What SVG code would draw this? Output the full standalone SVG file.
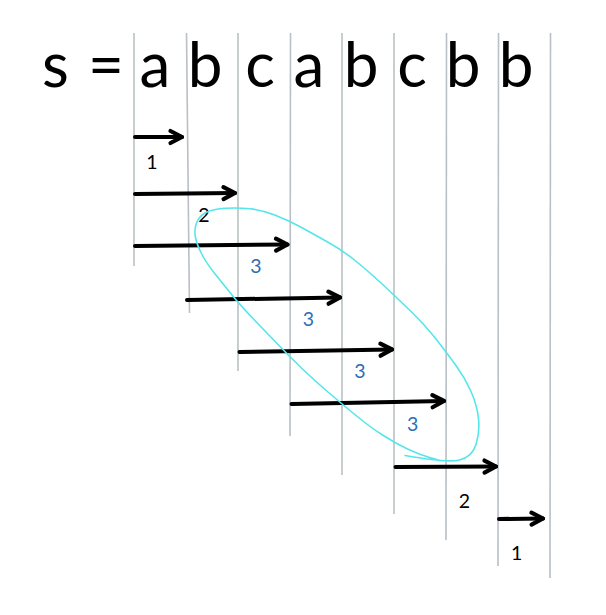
<svg xmlns="http://www.w3.org/2000/svg" width="606" height="615" viewBox="0 0 606 615">
  <style>
    .title { font-family: Lato, "Liberation Sans", sans-serif; font-size: 62px; fill: #000; text-anchor: middle; }
    .grid line { stroke: #BAC0C5; stroke-width: 1.6; }
    .arrow { stroke: #000; stroke-width: 4; stroke-linecap: round; fill: none; marker-end: url(#head); }
    .lbl { font-family: Lato, "Liberation Sans", sans-serif; font-size: 19.5px; text-anchor: middle; }
    .k { fill: #000; }
    .b { fill: #2E6FB3; }
    .loop { fill: none; stroke: #55E6EA; stroke-width: 1.6; stroke-linecap: round; }
  </style>
  <defs>
    <marker id="head" markerUnits="userSpaceOnUse" viewBox="-16 -10 20 20" refX="0" refY="0" markerWidth="20" markerHeight="20" orient="auto" overflow="visible">
      <path d="M -11.5 -6 L 0 0 L -11.5 6" fill="none" stroke="#000" stroke-width="4.2" stroke-linecap="round" stroke-linejoin="round"/>
    </marker>
  </defs>
  <rect width="606" height="615" fill="#fff"/>

  <g id="title">
    <text class="title" x="55.5" y="87">s</text>
    <text class="title" x="106" y="87">=</text>
    <text class="title" x="155" y="87">a</text>
    <text class="title" x="205" y="87">b</text>
    <text class="title" x="260" y="87">c</text>
    <text class="title" x="309" y="87">a</text>
    <text class="title" x="361" y="87">b</text>
    <text class="title" x="412" y="87">c</text>
    <text class="title" x="463" y="87">b</text>
    <text class="title" x="516" y="87">b</text>
  </g>

  <g id="grid" class="grid">
    <line x1="134" y1="33" x2="134" y2="266"/>
    <line x1="186.5" y1="33" x2="189.5" y2="313"/>
    <line x1="238" y1="33" x2="238" y2="371"/>
    <line x1="290.5" y1="33" x2="290" y2="436"/>
    <line x1="342" y1="33" x2="342" y2="475"/>
    <line x1="394" y1="33" x2="394" y2="514"/>
    <line x1="446.5" y1="33" x2="446" y2="540"/>
    <line x1="498.5" y1="33" x2="498" y2="566"/>
    <line x1="550.5" y1="33" x2="550" y2="578"/>
  </g>

  <g id="connectors">
    <path class="arrow" d="M 135 137 L 182 137"/>
    <path class="arrow" d="M 135 194 L 235 193"/>
    <path class="arrow" d="M 135 246 L 287.5 244.5"/>
    <path class="arrow" d="M 187 300 L 340 297.5"/>
    <path class="arrow" d="M 239.5 352 L 392 349.5"/>
    <path class="arrow" d="M 291.5 404 L 444 401"/>
    <path class="arrow" d="M 395.5 467 L 496 466.5"/>
    <path class="arrow" d="M 499 519 L 543 518.5"/>
  </g>

  <g id="labels">
    <text class="lbl k" x="152" y="169.3">1</text>
    <text class="lbl k" x="204" y="221.7">2</text>
    <text class="lbl b" x="256" y="273.3">3</text>
    <text class="lbl b" x="308.3" y="325.7">3</text>
    <text class="lbl b" x="360" y="378.2">3</text>
    <text class="lbl b" x="412.7" y="430.6">3</text>
    <text class="lbl k" x="464.3" y="508.3">2</text>
    <text class="lbl k" x="516.7" y="560">1</text>
  </g>

  <g id="highlight">
    <path class="loop" d="M 405 455.5 Q 447 463 459.5 460 Q 472 457 476 444.5 Q 480 432 478.5 418.5 Q 477 405 471 391.5 Q 465 378 456 365.5 Q 447 353 436 339 Q 425 325 409.5 310 Q 394 295 380.5 282.5 Q 367 270 354.5 260 Q 342 250 328.5 242.5 Q 315 235 302.5 228 Q 290 221 276 215.5 Q 262 210 250 208.75 Q 238 207.5 225.5 208.25 Q 213 209 206 212.5 Q 199 216 196.5 223 Q 194 230 195.5 237.5 Q 197 245 202 254.5 Q 207 264 215.5 274.5 Q 224 285 232 295 Q 240 305 253 318.5 Q 266 332 278 344.5 Q 290 357 302.5 369 Q 315 381 328.5 392.5 Q 342 404 356 415.5 Q 370 427 382.5 435 Q 395 443 406.5 448.5 Q 418 454 428 457 L 440 460.5"/>
  </g>
</svg>
